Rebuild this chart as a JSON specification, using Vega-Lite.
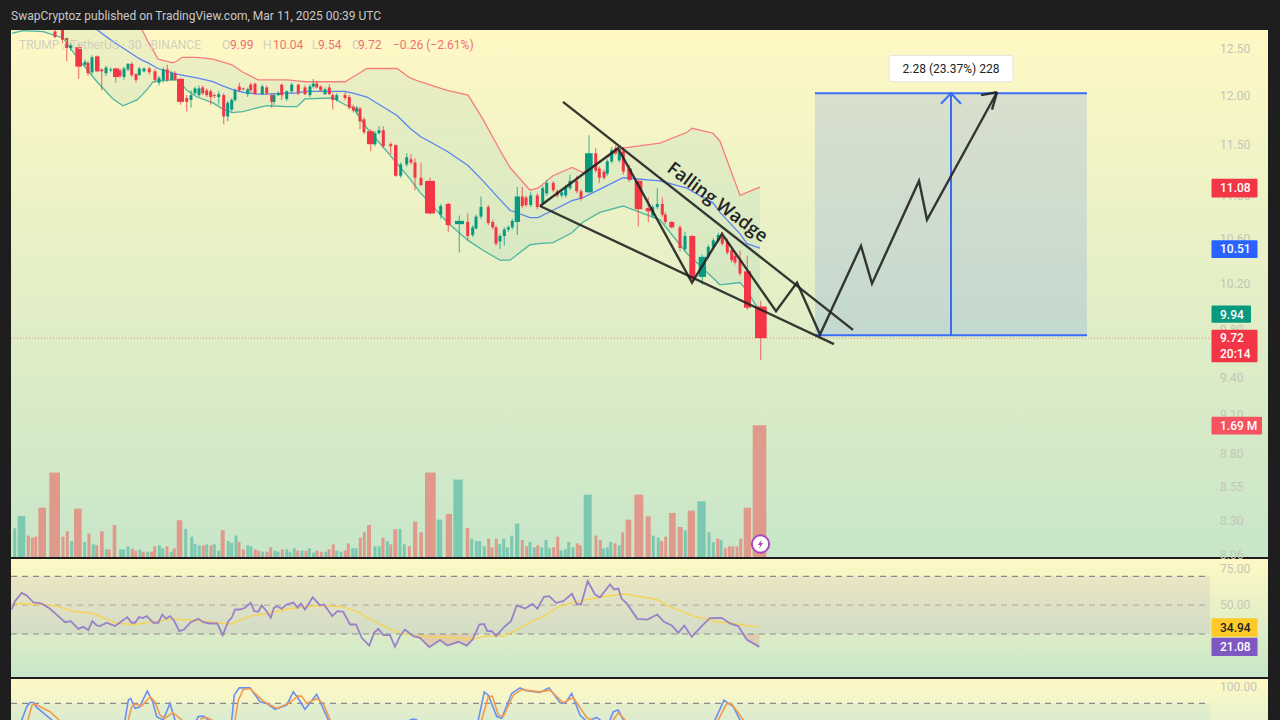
{
"$schema":"https://vega.github.io/schema/vega-lite/v6.json",
"background":"#1e1e1e",
"padding":{"left":11,"top":0,"right":12,"bottom":0},
"autosize":{"type":"pad"},
"spacing":2,
"bounds":"flush",
"config":{"view":{"stroke":null},"font":"Roboto","scale":{"continuousPadding":0}},
"datasets":{
"candles":[
{"t":55,"o":12.68,"h":12.7,"l":12.61,"c":12.62},
{"t":62.5,"o":12.7,"h":12.7,"l":12.55,"c":12.59},
{"t":66.7,"o":12.61,"h":12.61,"l":12.36,"c":12.5},
{"t":70.7,"o":12.5,"h":12.56,"l":12.47,"c":12.53},
{"t":78.7,"t0":75.3,"t1":82,"o":12.51,"h":12.55,"l":12.17,"c":12.3},
{"t":85,"o":12.32,"h":12.38,"l":12.3,"c":12.35},
{"t":88,"o":12.34,"h":12.36,"l":12.2,"c":12.23},
{"t":92,"o":12.24,"h":12.42,"l":12.22,"c":12.4},
{"t":97.3,"t0":95,"t1":99.5,"o":12.41,"h":12.42,"l":12.24,"c":12.25},
{"t":101.7,"o":12.27,"h":12.28,"l":12.05,"c":12.25},
{"t":106,"o":12.23,"h":12.31,"l":12.2,"c":12.29},
{"t":110.7,"o":12.26,"h":12.29,"l":12.24,"c":12.27},
{"t":115.7,"t0":113,"t1":119,"o":12.28,"h":12.29,"l":12.13,"c":12.19},
{"t":120,"o":12.26,"h":12.28,"l":12.18,"c":12.2},
{"t":124,"o":12.19,"h":12.3,"l":12.16,"c":12.28},
{"t":128,"o":12.27,"h":12.34,"l":12.25,"c":12.33},
{"t":131.7,"o":12.33,"h":12.35,"l":12.19,"c":12.21},
{"t":136,"o":12.22,"h":12.23,"l":12.13,"c":12.16},
{"t":139.3,"o":12.21,"h":12.3,"l":12.2,"c":12.28},
{"t":144,"o":12.25,"h":12.29,"l":12.24,"c":12.28},
{"t":149.3,"o":12.28,"h":12.3,"l":12.22,"c":12.24},
{"t":155,"o":12.25,"h":12.27,"l":12.13,"c":12.16},
{"t":159,"o":12.13,"h":12.2,"l":12.1,"c":12.18},
{"t":163.3,"o":12.16,"h":12.29,"l":12.13,"c":12.27},
{"t":167.3,"o":12.27,"h":12.32,"l":12.14,"c":12.16},
{"t":171.7,"o":12.16,"h":12.25,"l":12.15,"c":12.23},
{"t":175,"o":12.23,"h":12.25,"l":12.15,"c":12.16},
{"t":180.7,"t0":177,"t1":184,"o":12.17,"h":12.18,"l":11.9,"c":11.93},
{"t":186.7,"o":11.97,"h":12.0,"l":11.83,"c":11.93},
{"t":191,"o":11.95,"h":12.05,"l":11.87,"c":12.0},
{"t":195,"o":12.02,"h":12.09,"l":12.0,"c":12.07},
{"t":199,"o":12.0,"h":12.1,"l":11.98,"c":12.07},
{"t":202.7,"o":12.08,"h":12.1,"l":12.0,"c":12.02},
{"t":206.7,"o":12.05,"h":12.07,"l":11.98,"c":12.0},
{"t":210.7,"o":12.04,"h":12.06,"l":11.9,"c":11.98},
{"t":214.3,"o":12.0,"h":12.02,"l":11.97,"c":11.99},
{"t":218.7,"o":11.98,"h":12.04,"l":11.9,"c":12.01},
{"t":223.7,"o":12.0,"h":12.02,"l":11.7,"c":11.78},
{"t":227.7,"o":11.78,"h":11.94,"l":11.73,"c":11.92},
{"t":231.7,"o":11.85,"h":11.97,"l":11.83,"c":11.95},
{"t":235,"o":11.95,"h":12.07,"l":11.93,"c":12.05},
{"t":239.3,"o":12.09,"h":12.13,"l":12.03,"c":12.05},
{"t":243.3,"o":12.07,"h":12.08,"l":12.05,"c":12.06},
{"t":247.7,"o":12.01,"h":12.08,"l":11.98,"c":12.06},
{"t":250.7,"o":12.11,"h":12.13,"l":12.03,"c":12.05},
{"t":255,"o":12.12,"h":12.13,"l":12.0,"c":12.01},
{"t":262.3,"o":12.01,"h":12.11,"l":12.0,"c":12.09},
{"t":266.7,"o":12.08,"h":12.1,"l":12.0,"c":12.02},
{"t":271.7,"o":12.0,"h":12.02,"l":11.87,"c":11.93},
{"t":274,"o":11.93,"h":12.02,"l":11.9,"c":12.0},
{"t":278.3,"o":12.0,"h":12.04,"l":11.99,"c":12.02},
{"t":281.7,"o":12.11,"h":12.12,"l":11.95,"c":12.0},
{"t":286.7,"o":11.96,"h":12.05,"l":11.94,"c":12.04},
{"t":291.7,"o":12.04,"h":12.13,"l":12.02,"c":12.11},
{"t":298.3,"o":12.11,"h":12.12,"l":12.0,"c":12.02},
{"t":305,"o":12.08,"h":12.1,"l":12.0,"c":12.01},
{"t":310,"o":12.0,"h":12.11,"l":11.98,"c":12.09},
{"t":313.3,"o":12.09,"h":12.17,"l":12.07,"c":12.12},
{"t":316.7,"o":12.12,"h":12.15,"l":12.07,"c":12.08},
{"t":320.7,"o":12.09,"h":12.1,"l":12.04,"c":12.05},
{"t":325,"o":12.01,"h":12.08,"l":12.0,"c":12.06},
{"t":329.3,"o":12.08,"h":12.11,"l":12.0,"c":12.01},
{"t":332.7,"o":12.0,"h":12.02,"l":11.85,"c":11.95},
{"t":336.7,"o":11.95,"h":12.02,"l":11.93,"c":12.0},
{"t":345,"o":12.0,"h":12.03,"l":11.95,"c":11.97},
{"t":349.3,"o":11.98,"h":12.0,"l":11.85,"c":11.87},
{"t":353.3,"o":11.88,"h":11.9,"l":11.82,"c":11.84},
{"t":356.7,"o":11.83,"h":11.89,"l":11.8,"c":11.87},
{"t":360,"o":11.86,"h":11.88,"l":11.65,"c":11.73},
{"t":364,"o":11.75,"h":11.77,"l":11.6,"c":11.62},
{"t":370.7,"t0":367,"t1":374,"o":11.63,"h":11.65,"l":11.43,"c":11.5},
{"t":375,"o":11.5,"h":11.63,"l":11.48,"c":11.61},
{"t":379,"o":11.61,"h":11.68,"l":11.6,"c":11.64},
{"t":383.3,"o":11.64,"h":11.68,"l":11.46,"c":11.48},
{"t":390.7,"o":11.5,"h":11.52,"l":11.4,"c":11.48},
{"t":395.7,"t0":394,"t1":397.5,"o":11.49,"h":11.5,"l":11.18,"c":11.19},
{"t":400.7,"o":11.19,"h":11.32,"l":11.17,"c":11.3},
{"t":406.7,"o":11.3,"h":11.41,"l":11.28,"c":11.37},
{"t":411,"o":11.35,"h":11.4,"l":11.3,"c":11.32},
{"t":415,"o":11.32,"h":11.36,"l":11.05,"c":11.17},
{"t":421,"o":11.17,"h":11.32,"l":11.09,"c":11.1},
{"t":430,"t0":425,"t1":435,"o":11.14,"h":11.17,"l":10.82,"c":10.83},
{"t":440.7,"o":10.82,"h":10.92,"l":10.78,"c":10.9},
{"t":448.3,"t0":445.7,"t1":450.7,"o":10.92,"h":10.93,"l":10.66,"c":10.72},
{"t":459.3,"t0":455,"t1":464,"o":10.73,"h":10.81,"l":10.47,"c":10.76},
{"t":467.7,"o":10.75,"h":10.83,"l":10.58,"c":10.62},
{"t":472.7,"o":10.63,"h":10.72,"l":10.61,"c":10.7},
{"t":476,"o":10.69,"h":10.82,"l":10.68,"c":10.8},
{"t":481,"o":10.8,"h":10.99,"l":10.78,"c":10.89},
{"t":488.3,"o":10.89,"h":10.91,"l":10.72,"c":10.74},
{"t":492.7,"o":10.75,"h":10.77,"l":10.68,"c":10.7},
{"t":496,"o":10.7,"h":10.72,"l":10.53,"c":10.55},
{"t":500,"o":10.57,"h":10.64,"l":10.5,"c":10.62},
{"t":504.3,"o":10.62,"h":10.7,"l":10.53,"c":10.68},
{"t":508.3,"o":10.68,"h":10.72,"l":10.66,"c":10.7},
{"t":512.3,"o":10.7,"h":10.78,"l":10.68,"c":10.76},
{"t":517.3,"t0":514.7,"t1":520,"o":10.75,"h":11.08,"l":10.63,"c":10.99},
{"t":522.3,"o":10.99,"h":11.08,"l":10.88,"c":10.9},
{"t":526,"o":10.98,"h":11.0,"l":10.89,"c":10.91},
{"t":530.7,"o":10.91,"h":11.03,"l":10.89,"c":11.0},
{"t":537.3,"o":11.0,"h":11.02,"l":10.87,"c":10.89},
{"t":542.7,"o":10.93,"h":11.09,"l":10.91,"c":11.07},
{"t":546.7,"o":11.02,"h":11.15,"l":11.0,"c":11.12},
{"t":553.3,"o":11.12,"h":11.14,"l":11.03,"c":11.05},
{"t":557.3,"o":11.04,"h":11.06,"l":10.98,"c":11.0},
{"t":561.7,"o":11.0,"h":11.05,"l":10.98,"c":11.03},
{"t":565.7,"o":11.0,"h":11.1,"l":10.98,"c":11.08},
{"t":570,"o":11.07,"h":11.2,"l":11.05,"c":11.14},
{"t":576.7,"o":11.14,"h":11.19,"l":11.02,"c":11.04},
{"t":581,"o":11.04,"h":11.06,"l":10.95,"c":10.97},
{"t":589,"t0":585,"t1":592.7,"o":11.03,"h":11.59,"l":11.02,"c":11.41},
{"t":595.7,"o":11.41,"h":11.46,"l":11.22,"c":11.24},
{"t":599.3,"o":11.26,"h":11.28,"l":11.12,"c":11.17},
{"t":604,"o":11.23,"h":11.25,"l":11.15,"c":11.17},
{"t":607.3,"o":11.21,"h":11.35,"l":11.19,"c":11.33},
{"t":611.7,"o":11.33,"h":11.47,"l":11.31,"c":11.44},
{"t":615.7,"o":11.46,"h":11.49,"l":11.39,"c":11.41},
{"t":619.3,"o":11.34,"h":11.44,"l":11.32,"c":11.42},
{"t":623.3,"o":11.43,"h":11.47,"l":11.2,"c":11.23},
{"t":629.3,"t0":627.3,"t1":632,"o":11.26,"h":11.3,"l":11.13,"c":11.15},
{"t":638.3,"t0":634.7,"t1":642.3,"o":11.14,"h":11.15,"l":10.71,"c":10.87},
{"t":648.3,"t0":645.7,"t1":651,"o":10.88,"h":10.98,"l":10.75,"c":10.85},
{"t":652.7,"o":10.81,"h":10.91,"l":10.79,"c":10.89},
{"t":657.3,"o":10.89,"h":11.07,"l":10.87,"c":10.92},
{"t":662.3,"o":10.92,"h":10.98,"l":10.8,"c":10.82},
{"t":665.3,"o":10.82,"h":10.84,"l":10.73,"c":10.75},
{"t":671.7,"t0":669.3,"t1":674.3,"o":10.75,"h":10.76,"l":10.69,"c":10.7},
{"t":680,"o":10.7,"h":10.72,"l":10.48,"c":10.51},
{"t":685,"o":10.5,"h":10.66,"l":10.48,"c":10.62},
{"t":692.3,"t0":689.3,"t1":695.3,"o":10.62,"h":10.63,"l":10.22,"c":10.24},
{"t":702.3,"t0":698.7,"t1":706,"o":10.25,"h":10.45,"l":10.18,"c":10.43},
{"t":708.3,"o":10.43,"h":10.54,"l":10.41,"c":10.52},
{"t":713.3,"o":10.52,"h":10.6,"l":10.5,"c":10.58},
{"t":718.3,"o":10.58,"h":10.65,"l":10.56,"c":10.63},
{"t":722.3,"o":10.61,"h":10.66,"l":10.53,"c":10.55},
{"t":727.3,"o":10.57,"h":10.6,"l":10.45,"c":10.47},
{"t":731.7,"o":10.49,"h":10.5,"l":10.38,"c":10.4},
{"t":735,"o":10.44,"h":10.46,"l":10.36,"c":10.38},
{"t":740,"o":10.4,"h":10.49,"l":10.26,"c":10.28},
{"t":747.3,"t0":744,"t1":751,"o":10.3,"h":10.44,"l":9.96,"c":9.98},
{"t":760.7,"t0":755,"t1":766.7,"o":9.99,"h":10.04,"l":9.54,"c":9.72}
],
"bands":[
{"t":12,"up":13.5,"mid":13,"lo":12.66},{"t":23,"up":13.5,"mid":13,"lo":12.69},{"t":43,"up":13.5,"mid":13,"lo":12.68},{"t":63,"up":13.5,"mid":13,"lo":12.61},
{"t":77,"up":13.5,"mid":12.87,"lo":12.4},{"t":97,"up":13.5,"mid":12.7,"lo":12.14},{"t":113,"up":13.5,"mid":12.57,"lo":11.96},{"t":123,"up":13.5,"mid":12.5,"lo":11.89},
{"t":137,"up":12.82,"mid":12.4,"lo":11.95},{"t":142,"up":12.7,"mid":12.37,"lo":12.0},{"t":148,"up":12.57,"mid":12.34,"lo":12.07},{"t":153,"up":12.48,"mid":12.31,"lo":12.14},
{"t":158,"up":12.38,"mid":12.28,"lo":12.15},{"t":173,"up":12.34,"mid":12.23,"lo":12.16},{"t":177,"up":12.36,"mid":12.22,"lo":12.16},{"t":182,"up":12.4,"mid":12.21,"lo":12.11},
{"t":187,"up":12.4,"mid":12.2,"lo":12.05},{"t":197,"up":12.4,"mid":12.18,"lo":11.98},{"t":213,"up":12.38,"mid":12.14,"lo":11.92},{"t":222,"up":12.35,"mid":12.1,"lo":11.86},
{"t":232,"up":12.32,"mid":12.06,"lo":11.82},{"t":243,"up":12.24,"mid":12.03,"lo":11.83},{"t":258,"up":12.16,"mid":12.01,"lo":11.87},{"t":267,"up":12.16,"mid":12.01,"lo":11.89},
{"t":287,"up":12.16,"mid":12.02,"lo":11.88},{"t":297,"up":12.15,"mid":12.02,"lo":11.88},{"t":305,"up":12.14,"mid":12.04,"lo":11.96},{"t":333,"up":12.14,"mid":12.04,"lo":11.97},
{"t":345,"up":12.14,"mid":12.04,"lo":11.9},{"t":353,"up":12.19,"mid":12.02,"lo":11.87},{"t":367,"up":12.28,"mid":11.98,"lo":11.66},{"t":397,"up":12.28,"mid":11.79,"lo":11.31},
{"t":410,"up":12.18,"mid":11.66,"lo":11.16},{"t":420,"up":12.14,"mid":11.58,"lo":11.03},{"t":447,"up":12.05,"mid":11.43,"lo":10.75},{"t":468,"up":12.0,"mid":11.29,"lo":10.58},
{"t":483,"up":11.75,"mid":11.14,"lo":10.49},{"t":500,"up":11.44,"mid":10.96,"lo":10.4},{"t":510,"up":11.27,"mid":10.86,"lo":10.4},{"t":530,"up":11.05,"mid":10.79,"lo":10.54},
{"t":538,"up":11.07,"mid":10.79,"lo":10.55},{"t":553,"up":11.19,"mid":10.86,"lo":10.56},{"t":572,"up":11.27,"mid":10.95,"lo":10.65},{"t":583,"up":11.22,"mid":10.98,"lo":10.75},
{"t":600,"up":11.33,"mid":11.06,"lo":10.84},{"t":623,"up":11.46,"mid":11.17,"lo":10.9},{"t":660,"up":11.51,"mid":11.14,"lo":10.77},{"t":687,"up":11.62,"mid":11.07,"lo":10.46},
{"t":692,"up":11.66,"mid":11.04,"lo":10.42},{"t":713,"up":11.61,"mid":10.93,"lo":10.24},{"t":720,"up":11.53,"mid":10.84,"lo":10.18},{"t":740,"up":11.0,"mid":10.64,"lo":10.2},
{"t":747,"up":11.03,"mid":10.55,"lo":10.13},{"t":760,"up":11.08,"mid":10.51,"lo":9.94}
],
"volume":[
{"t":14.7,"v":0.368,"d":"up"},{"t":21.5,"t0":17.7,"t1":25.3,"v":0.526,"d":"up"},{"t":28.3,"v":0.274,"d":"down"},{"t":32.3,"v":0.248,"d":"down"},{"t":35.7,"v":0.261,"d":"down"},
{"t":42,"t0":38.3,"t1":46,"v":0.633,"d":"down"},{"t":54.6,"t0":49.3,"t1":60,"v":1.083,"d":"down"},{"t":63,"v":0.261,"d":"down"},{"t":67.3,"v":0.33,"d":"down"},{"t":71.7,"v":0.205,"d":"up"},
{"t":78,"t0":74,"t1":81.7,"v":0.62,"d":"down"},{"t":84.7,"v":0.193,"d":"up"},{"t":89,"v":0.3,"d":"down"},{"t":93.3,"v":0.163,"d":"up"},{"t":96.7,"v":0.15,"d":"down"},
{"t":102,"t0":100,"t1":103.7,"v":0.33,"d":"down"},{"t":106.3,"v":0.098,"d":"up"},{"t":109.3,"v":0.098,"d":"down"},{"t":114.5,"t0":112.7,"t1":116.3,"v":0.411,"d":"down"},{"t":120.7,"v":0.098,"d":"up"},
{"t":123.7,"v":0.098,"d":"up"},{"t":128,"v":0.137,"d":"up"},{"t":132.3,"v":0.107,"d":"down"},{"t":135.7,"v":0.081,"d":"down"},{"t":140,"v":0.094,"d":"up"},
{"t":143.3,"v":0.068,"d":"down"},{"t":147.7,"v":0.068,"d":"up"},{"t":151.7,"v":0.068,"d":"down"},{"t":154.7,"v":0.137,"d":"down"},{"t":159.3,"v":0.15,"d":"up"},
{"t":162.7,"v":0.111,"d":"up"},{"t":167,"v":0.137,"d":"down"},{"t":171.3,"v":0.068,"d":"up"},{"t":174.3,"v":0.111,"d":"down"},{"t":179.5,"t0":176.7,"t1":182.3,"v":0.471,"d":"down"},
{"t":185.7,"v":0.36,"d":"up"},{"t":191.7,"v":0.261,"d":"up"},{"t":195,"v":0.167,"d":"up"},{"t":199.3,"v":0.15,"d":"up"},{"t":203.3,"v":0.15,"d":"down"},
{"t":206.7,"v":0.163,"d":"up"},{"t":211,"v":0.15,"d":"down"},{"t":214.3,"v":0.163,"d":"up"},{"t":218.7,"v":0.081,"d":"up"},{"t":222.7,"t0":220.7,"t1":224.7,"v":0.342,"d":"down"},
{"t":228.3,"v":0.205,"d":"up"},{"t":231.7,"v":0.18,"d":"up"},{"t":236,"v":0.274,"d":"up"},{"t":239,"v":0.193,"d":"down"},{"t":243.3,"v":0.098,"d":"down"},
{"t":247.7,"v":0.15,"d":"up"},{"t":251,"v":0.137,"d":"up"},{"t":255.3,"v":0.098,"d":"down"},{"t":258.7,"v":0.081,"d":"down"},{"t":262.7,"v":0.068,"d":"up"},
{"t":267,"v":0.068,"d":"down"},{"t":270.7,"v":0.124,"d":"down"},{"t":275,"v":0.081,"d":"up"},{"t":278,"v":0.068,"d":"up"},{"t":282.3,"v":0.098,"d":"down"},
{"t":286.7,"v":0.098,"d":"up"},{"t":290,"v":0.068,"d":"up"},{"t":294.3,"v":0.111,"d":"up"},{"t":297.7,"v":0.081,"d":"down"},{"t":302,"v":0.081,"d":"up"},
{"t":306,"v":0.081,"d":"down"},{"t":309.3,"v":0.111,"d":"up"},{"t":313.7,"v":0.056,"d":"up"},{"t":317,"v":0.081,"d":"down"},{"t":321.3,"v":0.068,"d":"down"},
{"t":325.7,"v":0.068,"d":"up"},{"t":329,"v":0.098,"d":"down"},{"t":333.3,"v":0.163,"d":"down"},{"t":336.7,"v":0.081,"d":"up"},{"t":341,"v":0.068,"d":"up"},
{"t":345.3,"v":0.081,"d":"down"},{"t":348.3,"v":0.175,"d":"down"},{"t":352.7,"v":0.111,"d":"up"},{"t":356,"v":0.111,"d":"up"},{"t":360.3,"v":0.248,"d":"down"},
{"t":364.3,"v":0.317,"d":"down"},{"t":369,"t0":367,"t1":371,"v":0.411,"d":"down"},{"t":375,"v":0.137,"d":"up"},{"t":379.3,"v":0.137,"d":"up"},{"t":383,"v":0.248,"d":"down"},
{"t":387.3,"v":0.205,"d":"up"},{"t":390.7,"v":0.163,"d":"down"},{"t":395.3,"t0":393.3,"t1":397.3,"v":0.355,"d":"down"},{"t":400,"v":0.36,"d":"up"},{"t":404.3,"v":0.163,"d":"up"},
{"t":409.3,"v":0.137,"d":"down"},{"t":415,"t0":413,"t1":417.3,"v":0.454,"d":"down"},{"t":421,"t0":419.3,"t1":423,"v":0.317,"d":"down"},{"t":430,"t0":425,"t1":435.7,"v":1.083,"d":"down"},
{"t":439.5,"t0":436.7,"t1":442.3,"v":0.479,"d":"up"},{"t":449,"t0":445.7,"t1":452,"v":0.552,"d":"down"},{"t":458,"t0":453.3,"t1":462.7,"v":0.993,"d":"up"},{"t":467.5,"t0":465.7,"t1":469.3,"v":0.372,"d":"down"},
{"t":471.7,"v":0.235,"d":"up"},{"t":476.3,"v":0.205,"d":"up"},{"t":479.7,"v":0.205,"d":"up"},{"t":484.3,"v":0.137,"d":"up"},{"t":488.7,"v":0.235,"d":"down"},
{"t":492,"v":0.124,"d":"down"},{"t":496.3,"v":0.235,"d":"down"},{"t":499.7,"v":0.163,"d":"up"},{"t":503.7,"v":0.235,"d":"up"},{"t":507.3,"v":0.124,"d":"up"},
{"t":511.7,"v":0.274,"d":"up"},{"t":517,"t0":515,"t1":519.3,"v":0.428,"d":"up"},{"t":522.3,"v":0.218,"d":"down"},{"t":526.7,"v":0.137,"d":"down"},{"t":530,"v":0.193,"d":"up"},
{"t":534.3,"v":0.124,"d":"up"},{"t":537.7,"v":0.15,"d":"down"},{"t":541.7,"v":0.124,"d":"up"},{"t":546,"v":0.218,"d":"up"},{"t":549.3,"v":0.111,"d":"up"},
{"t":553.7,"v":0.124,"d":"down"},{"t":557.7,"v":0.261,"d":"down"},{"t":561,"v":0.086,"d":"up"},{"t":565.3,"v":0.098,"d":"up"},{"t":568.7,"v":0.193,"d":"up"},
{"t":573,"v":0.124,"d":"up"},{"t":577.3,"v":0.175,"d":"down"},{"t":580.3,"v":0.15,"d":"down"},{"t":587.7,"t0":583.7,"t1":591.7,"v":0.8,"d":"up"},{"t":596,"v":0.274,"d":"down"},
{"t":600.3,"v":0.218,"d":"down"},{"t":603.3,"v":0.111,"d":"up"},{"t":607.3,"v":0.124,"d":"up"},{"t":610.7,"v":0.193,"d":"up"},{"t":615,"v":0.175,"d":"down"},
{"t":619.3,"v":0.15,"d":"up"},{"t":622.7,"v":0.317,"d":"down"},{"t":628.5,"t0":625.7,"t1":631.3,"v":0.479,"d":"down"},{"t":638.8,"t0":634.3,"t1":643.3,"v":0.8,"d":"down"},{"t":648.2,"t0":645.7,"t1":650.7,"v":0.522,"d":"down"},
{"t":653.3,"v":0.274,"d":"up"},{"t":658.3,"v":0.248,"d":"up"},{"t":661.7,"v":0.205,"d":"down"},{"t":665.7,"v":0.261,"d":"down"},{"t":672.3,"t0":669,"t1":675.7,"v":0.565,"d":"down"},
{"t":680.2,"t0":677.7,"t1":682.7,"v":0.385,"d":"down"},{"t":685.3,"v":0.342,"d":"up"},{"t":691.3,"t0":687.7,"t1":695,"v":0.595,"d":"down"},{"t":701.5,"t0":697.3,"t1":705.7,"v":0.715,"d":"up"},{"t":709,"v":0.317,"d":"up"},
{"t":713.3,"v":0.193,"d":"up"},{"t":717.7,"v":0.235,"d":"down"},{"t":721,"v":0.218,"d":"up"},{"t":725.3,"v":0.111,"d":"down"},{"t":729.3,"v":0.137,"d":"down"},
{"t":732.7,"v":0.137,"d":"down"},{"t":737,"v":0.137,"d":"down"},{"t":740.7,"v":0.235,"d":"down"},{"t":747.3,"t0":743.7,"t1":751,"v":0.633,"d":"down"},{"t":759.5,"t0":752.7,"t1":766.3,"v":1.69,"d":"down"}
],
"rsi":[
{"t":11.7,"v":47},{"t":15,"v":52.8},{"t":21.7,"v":58.5},{"t":26.7,"v":56.7},{"t":33.3,"v":52},{"t":41.7,"v":51},{"t":50,"v":47.5},{"t":58.3,"v":42.4},{"t":65,"v":38.2},{"t":70.7,"v":38.9},{"t":78.3,"v":33.6},{"t":83.3,"v":35},{"t":88.3,"v":32.7},{"t":92.3,"v":38.9},{"t":96.7,"v":35.9},{"t":100,"v":35.5},{"t":106.7,"v":37.8},{"t":115,"v":35.5},{"t":121.7,"v":38.9},{"t":127.3,"v":41.7},{"t":131.7,"v":37.8},{"t":135,"v":37.8},{"t":139,"v":41.7},{"t":142.7,"v":41},{"t":146.7,"v":42.4},{"t":153.3,"v":37.8},{"t":158.3,"v":37.8},{"t":162.3,"v":43.5},{"t":166,"v":40.5},{"t":170,"v":42.4},{"t":174,"v":39.4},{"t":179.3,"v":32},{"t":184,"v":33.1},{"t":190.7,"v":38.2},{"t":198.3,"v":40.5},{"t":203.3,"v":38.2},{"t":210,"v":37.3},{"t":217.3,"v":37.3},{"t":222.7,"v":29.2},{"t":228.3,"v":38.9},{"t":231.7,"v":41.2},{"t":235,"v":47},{"t":240,"v":47},{"t":245,"v":48.2},{"t":250.7,"v":51.6},{"t":254.3,"v":45.8},{"t":258.3,"v":45.4},{"t":261.7,"v":49.8},{"t":266.7,"v":45.8},{"t":270.7,"v":41.2},{"t":274,"v":48.2},{"t":277.3,"v":49.3},{"t":281.7,"v":47.5},{"t":286.7,"v":50.5},{"t":293.3,"v":51.8},{"t":297.7,"v":48.2},{"t":301,"v":51.2},{"t":305,"v":47},{"t":312.7,"v":55.5},{"t":320,"v":49.8},{"t":324,"v":50.5},{"t":332.3,"v":42.4},{"t":337.3,"v":45.8},{"t":343.3,"v":45.4},{"t":350,"v":36.6},{"t":356,"v":36.6},{"t":361.7,"v":27.4},{"t":369.3,"v":22},{"t":374,"v":30.8},{"t":378.3,"v":33.6},{"t":383.3,"v":29.2},{"t":390,"v":29.2},{"t":395,"v":21.1},{"t":400,"v":28.5},{"t":405,"v":33.1},{"t":413.3,"v":28.5},{"t":420,"v":27.4},{"t":429.3,"v":20.9},{"t":440,"v":25.8},{"t":447.3,"v":22},{"t":458.3,"v":24.6},{"t":466.7,"v":22},{"t":472.7,"v":26.2},{"t":479.3,"v":36.6},{"t":484,"v":37},{"t":487.3,"v":32},{"t":491.7,"v":32},{"t":496,"v":28.5},{"t":503.3,"v":34.3},{"t":511,"v":38.9},{"t":516.7,"v":49.8},{"t":525,"v":47.7},{"t":532.7,"v":50.9},{"t":537.3,"v":47.5},{"t":544,"v":55.8},{"t":549.3,"v":56.2},{"t":556,"v":51.6},{"t":563.3,"v":52.8},{"t":572,"v":57.9},{"t":576.7,"v":50.9},{"t":581,"v":50.5},{"t":587.7,"v":66.6},{"t":595,"v":57.4},{"t":600,"v":55.5},{"t":610,"v":64.3},{"t":614,"v":60.9},{"t":618.3,"v":61.5},{"t":621.7,"v":54.4},{"t":626.7,"v":51.2},{"t":637.3,"v":40.5},{"t":647.3,"v":40},{"t":657.3,"v":43.5},{"t":664,"v":38.5},{"t":671.7,"v":35.9},{"t":678.3,"v":30.8},{"t":684.3,"v":35.9},{"t":691.7,"v":28},{"t":701.7,"v":35.5},{"t":710,"v":41},{"t":721.7,"v":41.2},{"t":730,"v":37.3},{"t":738.3,"v":35.5},{"t":746.7,"v":26.2},{"t":759.3,"v":21.08}
],
"rsiMa":[
{"t":11.7,"v":50.5},{"t":20,"v":51.2},{"t":40,"v":50.5},{"t":56.7,"v":49.3},{"t":73.3,"v":45.8},{"t":93.3,"v":44.2},{"t":116.7,"v":37.3},{"t":135,"v":36.6},{"t":156.7,"v":38.9},{"t":173.3,"v":40.5},{"t":196.7,"v":39.4},{"t":216.7,"v":37.8},{"t":231.7,"v":37},{"t":250,"v":42.4},{"t":266.7,"v":44.2},{"t":290,"v":47.7},{"t":320,"v":49.8},{"t":343.3,"v":48.8},{"t":358.3,"v":45.2},{"t":380,"v":36.6},{"t":400,"v":30.8},{"t":416.7,"v":28.5},{"t":433.3,"v":27.8},{"t":456.7,"v":27.4},{"t":471.7,"v":26.2},{"t":485,"v":28.5},{"t":503.3,"v":28.5},{"t":516.7,"v":32.7},{"t":533.3,"v":39.4},{"t":543.3,"v":41.9},{"t":556.7,"v":48.2},{"t":573.3,"v":52.1},{"t":600,"v":55.5},{"t":623.3,"v":57.9},{"t":656.7,"v":53.9},{"t":666.7,"v":50},{"t":693.3,"v":42.4},{"t":716.7,"v":38.5},{"t":733.3,"v":37.3},{"t":746.7,"v":35.9},{"t":759.3,"v":34.94}
],
"rsiLow":[
{"g":"a","t":411,"v":30},{"g":"a","t":413.3,"v":28.5},{"g":"a","t":420,"v":27.4},{"g":"a","t":429.3,"v":20.9},{"g":"a","t":440,"v":25.8},{"g":"a","t":447.3,"v":22},{"g":"a","t":458.3,"v":24.6},{"g":"a","t":466.7,"v":22},{"g":"a","t":472.7,"v":26.2},{"g":"a","t":475,"v":30},
{"g":"b","t":742,"v":30},{"g":"b","t":746.7,"v":26.2},{"g":"b","t":759.3,"v":21.08}
],
"stochK":[
{"t":11,"v":35},{"t":21.7,"v":60},{"t":26.7,"v":76},{"t":30,"v":81.2},{"t":33.3,"v":81.2},{"t":36.7,"v":75.2},{"t":51.7,"v":60},{"t":60,"v":35},{"t":120,"v":35},{"t":125,"v":60},{"t":128.3,"v":84},{"t":130.7,"v":86},{"t":135,"v":74},{"t":139.3,"v":75.2},{"t":147.3,"v":94.9},{"t":152.7,"v":82},{"t":156.7,"v":64},{"t":163.3,"v":60},{"t":170,"v":80},{"t":175,"v":60},{"t":185,"v":40},{"t":192,"v":45},{"t":196.7,"v":60},{"t":198.3,"v":64},{"t":203.3,"v":64.7},{"t":208.3,"v":60},{"t":215,"v":35},{"t":226,"v":35},{"t":231.7,"v":60},{"t":234.3,"v":90},{"t":239.3,"v":98.9},{"t":250,"v":98.9},{"t":260,"v":82},{"t":266.7,"v":80},{"t":275,"v":72.8},{"t":286.7,"v":78},{"t":293.3,"v":94},{"t":298.3,"v":86},{"t":305,"v":72.8},{"t":316.7,"v":91.2},{"t":328.3,"v":60},{"t":340,"v":35},{"t":400,"v":35},{"t":410,"v":60},{"t":413.3,"v":61},{"t":416.7,"v":60},{"t":425,"v":35},{"t":470,"v":35},{"t":478.3,"v":60},{"t":484.3,"v":94},{"t":488.3,"v":90},{"t":496.7,"v":64},{"t":501.7,"v":62},{"t":511.7,"v":92},{"t":520,"v":98.9},{"t":526.7,"v":95.3},{"t":540,"v":93.3},{"t":549,"v":98.9},{"t":560,"v":80.8},{"t":565.7,"v":80.8},{"t":571.7,"v":92},{"t":580,"v":66},{"t":586.7,"v":58},{"t":596.7,"v":63},{"t":600,"v":60},{"t":605,"v":50},{"t":610,"v":60},{"t":613.3,"v":70},{"t":618.3,"v":72},{"t":623.3,"v":60},{"t":632,"v":35},{"t":705,"v":35},{"t":715,"v":60},{"t":724,"v":84},{"t":733.3,"v":76},{"t":740,"v":60},{"t":750,"v":35},{"t":760,"v":30}
],
"stochD":[
{"t":15,"v":30},{"t":28,"v":60},{"t":32,"v":78},{"t":35,"v":79.2},{"t":50,"v":70},{"t":59,"v":60},{"t":68,"v":35},{"t":122,"v":35},{"t":128.3,"v":60},{"t":131.7,"v":76},{"t":135,"v":79.2},{"t":141.7,"v":76.8},{"t":150,"v":88},{"t":155,"v":82},{"t":160,"v":66},{"t":165,"v":62},{"t":172.7,"v":68.8},{"t":180,"v":62},{"t":183.3,"v":58},{"t":190,"v":42},{"t":197,"v":50},{"t":201.7,"v":62},{"t":206,"v":63},{"t":211.7,"v":60},{"t":218,"v":35},{"t":230,"v":35},{"t":235,"v":60},{"t":238.3,"v":84},{"t":243.3,"v":96.9},{"t":250,"v":98},{"t":263.3,"v":82.8},{"t":276.7,"v":74},{"t":288.3,"v":80},{"t":298.3,"v":89.2},{"t":301.7,"v":88.8},{"t":306.7,"v":80},{"t":316.7,"v":86},{"t":323.3,"v":80},{"t":330,"v":60},{"t":342,"v":35},{"t":472,"v":35},{"t":481.7,"v":60},{"t":488.3,"v":88},{"t":492.3,"v":88.8},{"t":498.3,"v":66},{"t":503.3,"v":64},{"t":513.3,"v":90},{"t":521.7,"v":96.9},{"t":540,"v":94},{"t":550,"v":96},{"t":563.3,"v":80.8},{"t":573.3,"v":87.2},{"t":586.7,"v":62.7},{"t":591.7,"v":60},{"t":600,"v":40},{"t":608,"v":42},{"t":613.3,"v":60},{"t":618.3,"v":68.8},{"t":625,"v":60},{"t":634,"v":35},{"t":708,"v":35},{"t":718.3,"v":60},{"t":726.7,"v":80},{"t":731.7,"v":79.2},{"t":743.3,"v":60},{"t":752,"v":35},{"t":760,"v":30}
],
"drawn":[
{"g":"top","t":563,"p":11.93},{"g":"top","t":853,"p":9.79},
{"g":"bottom","t":540,"p":10.9},{"g":"bottom","t":834,"p":9.67},
{"g":"path","t":540,"p":10.9},{"g":"path","t":618,"p":11.46},{"g":"path","t":692,"p":10.2},{"g":"path","t":722,"p":10.64},{"g":"path","t":776,"p":9.95},{"g":"path","t":797,"p":10.2},{"g":"path","t":820,"p":9.75},{"g":"path","t":861,"p":10.53},{"g":"path","t":872,"p":10.19},{"g":"path","t":919,"p":11.14},{"g":"path","t":927,"p":10.77},{"g":"path","t":997,"p":12.03},
{"g":"head1","t":981,"p":12.0},{"g":"head1","t":997,"p":12.03},
{"g":"head2","t":992,"p":11.85},{"g":"head2","t":997,"p":12.03}
],
"target":[
{"g":"high","t":815,"p":12.02},{"g":"high","t":1087,"p":12.02},
{"g":"low","t":815,"p":9.745},{"g":"low","t":1087,"p":9.745},
{"g":"shaft","t":951,"p":9.745},{"g":"shaft","t":951,"p":12.02},
{"g":"head","t":941,"p":11.91},{"g":"head","t":951,"p":12.02},{"g":"head","t":961,"p":11.91}
],
"priceAxis":[
{"t":1220,"p":12.5,"s":"12.50"},{"t":1220,"p":12.0,"s":"12.00"},{"t":1220,"p":11.5,"s":"11.50"},{"t":1220,"p":11.0,"s":"11.00"},{"t":1220,"p":10.6,"s":"10.60"},{"t":1220,"p":10.2,"s":"10.20"},{"t":1220,"p":9.8,"s":"9.80"},{"t":1220,"p":9.4,"s":"9.40"},{"t":1220,"p":9.1,"s":"9.10"},{"t":1220,"p":8.8,"s":"8.80"},{"t":1220,"p":8.55,"s":"8.55"},{"t":1220,"p":8.3,"s":"8.30"},{"t":1220,"p":8.06,"s":"8.06"}
],
"priceTags":[
{"t":1211.5,"t2":1257.5,"p":11.16,"p2":10.98,"k":"upper"},
{"t":1211.5,"t2":1257.5,"p":10.58,"p2":10.42,"k":"basis"},
{"t":1211.5,"t2":1251,"p":10.0,"p2":9.85,"k":"lower"},
{"t":1211.5,"t2":1257.5,"p":9.79,"p2":9.52,"k":"upper"},
{"t":1211.5,"t2":1262,"p":9.08,"p2":8.94,"k":"volume"}
],
"priceTagText":[
{"t":1220,"p":11.07,"s":"11.08"},{"t":1220,"p":10.5,"s":"10.51"},{"t":1220,"p":9.92,"s":"9.94"},{"t":1220,"p":9.72,"s":"9.72"},{"t":1220,"p":9.59,"s":"20:14"},{"t":1220,"p":9.01,"s":"1.69 M"}
],
"ohlc":[
{"t":19,"p":12.53,"s":"TRUMP / TetherUS · 30 · BINANCE","k":"name"},
{"t":222,"p":12.53,"s":"O","k":"name"},{"t":230,"p":12.53,"s":"9.99","k":"value"},
{"t":263,"p":12.53,"s":"H","k":"name"},{"t":273,"p":12.53,"s":"10.04","k":"value"},
{"t":312,"p":12.53,"s":"L","k":"name"},{"t":318,"p":12.53,"s":"9.54","k":"value"},
{"t":352,"p":12.53,"s":"C","k":"name"},{"t":358,"p":12.53,"s":"9.72","k":"value"},
{"t":393,"p":12.53,"s":"−0.26 (−2.61%)","k":"value"}
]
},
"vconcat":[
{
"width":1257,"height":28,
"data":{"values":[{"t":11,"s":"SwapCryptoz published on TradingView.com, Mar 11, 2025 00:39 UTC"}]},
"mark":{"type":"text","align":"left","baseline":"middle","fontSize":12,"dy":2,"color":"#c9c9c9"},
"encoding":{"x":{"field":"t","type":"quantitative","scale":{"domain":[11,1268]},"axis":null},"text":{"field":"s"}}
},
{
"width":1257,"height":527,
"view":{"stroke":null,"fill":{"gradient":"linear","x1":0,"y1":0,"x2":0,"y2":1,"stops":[{"offset":0,"color":"#fff8c4"},{"offset":1,"color":"#c8e6c9"}]}},
"encoding":{"x":{"field":"t","type":"quantitative","scale":{"domain":[11,1268]},"axis":null}},
"layer":[
{"data":{"name":"volume"},"layer":[
{"transform":[{"filter":"!datum.t0"}],"mark":{"type":"bar","orient":"vertical","size":3},
"encoding":{"y":{"field":"v","type":"quantitative","stack":null,"scale":{"domain":[0,6.76]},"axis":null},"color":{"field":"d","type":"nominal","scale":{"domain":["up","down"],"range":["#7dc8b0","#df9a8b"]},"legend":null}}},
{"transform":[{"filter":"datum.t0"}],"mark":{"type":"bar","orient":"vertical"},
"encoding":{"x":{"field":"t0","type":"quantitative","scale":{"domain":[11,1268]},"axis":null},"x2":{"field":"t1"},"y":{"field":"v","type":"quantitative","stack":null,"scale":{"domain":[0,6.76]},"axis":null},"color":{"field":"d","type":"nominal","scale":{"domain":["up","down"],"range":["#7dc8b0","#df9a8b"]},"legend":null}}},
{"data":{"values":[{"t":760.5,"v":0.167}]},"mark":{"type":"point","filled":true,"fill":"#ffffff","stroke":"#ab47bc","strokeWidth":2,"opacity":1,"size":300},
"encoding":{"y":{"field":"v","type":"quantitative","scale":{"domain":[0,6.76]},"axis":null}}},
{"data":{"values":[{"t":760.5,"v":0.167}]},"mark":{"type":"point","filled":true,"color":"#ab47bc","opacity":1,"size":90,"shape":"M0.3,-1 L-0.55,0.2 L-0.05,0.2 L-0.3,1 L0.55,-0.2 L0.05,-0.2 Z"},
"encoding":{"y":{"field":"v","type":"quantitative","scale":{"domain":[0,6.76]},"axis":null}}}
]},
{"layer":[
{"data":{"name":"bands"},"mark":{"type":"area","clip":true,"color":"#2196a0","opacity":0.08},
"encoding":{"y":{"field":"up","type":"quantitative","scale":{"type":"log","domain":[8.04,12.697]},"axis":null},"y2":{"field":"lo"}}},
{"data":{"name":"bands"},"mark":{"type":"line","clip":true,"color":"#f77c80","strokeWidth":1.3},
"encoding":{"y":{"field":"up","type":"quantitative","scale":{"type":"log","domain":[8.04,12.697]},"axis":null}}},
{"data":{"name":"bands"},"mark":{"type":"line","clip":true,"color":"#5b84f0","strokeWidth":1.3},
"encoding":{"y":{"field":"mid","type":"quantitative","scale":{"type":"log","domain":[8.04,12.697]},"axis":null}}},
{"data":{"name":"bands"},"mark":{"type":"line","clip":true,"color":"#4db6a0","strokeWidth":1.3},
"encoding":{"y":{"field":"lo","type":"quantitative","scale":{"type":"log","domain":[8.04,12.697]},"axis":null}}},
{"data":{"values":[{"t":11,"t2":1210,"p":9.72}]},"mark":{"type":"rule","clip":true,"color":"#e58a80","strokeDash":[1,2],"strokeWidth":1},
"encoding":{"x2":{"field":"t2"},"y":{"field":"p","type":"quantitative","scale":{"type":"log","domain":[8.04,12.697]},"axis":null}}},
{"data":{"name":"candles"},"mark":{"type":"rule","clip":true,"opacity":0.65,"strokeWidth":1.2},
"encoding":{"y":{"field":"l","type":"quantitative","scale":{"type":"log","domain":[8.04,12.697]},"axis":null},"y2":{"field":"h"},"color":{"condition":{"test":"datum.c>=datum.o","value":"#089981"},"value":"#f23645"}}},
{"data":{"name":"candles"},"transform":[{"filter":"!datum.t0"}],"mark":{"type":"bar","orient":"vertical","size":3,"clip":true},
"encoding":{"y":{"field":"o","type":"quantitative","scale":{"type":"log","domain":[8.04,12.697]},"axis":null},"y2":{"field":"c"},"color":{"condition":{"test":"datum.c>=datum.o","value":"#089981"},"value":"#f23645"}}},
{"data":{"name":"candles"},"transform":[{"filter":"datum.t0"}],"mark":{"type":"rect","clip":true},
"encoding":{"x":{"field":"t0","type":"quantitative","scale":{"domain":[11,1268]},"axis":null},"x2":{"field":"t1"},"y":{"field":"o","type":"quantitative","scale":{"type":"log","domain":[8.04,12.697]},"axis":null},"y2":{"field":"c"},"color":{"condition":{"test":"datum.c>=datum.o","value":"#089981"},"value":"#f23645"}}},
{"data":{"values":[{"t":815,"t2":1087,"p":12.02,"p2":9.745}]},"mark":{"type":"rect","color":"#2962ff","opacity":0.15},
"encoding":{"x2":{"field":"t2"},"y":{"field":"p","type":"quantitative","scale":{"type":"log","domain":[8.04,12.697]},"axis":null},"y2":{"field":"p2"}}},
{"data":{"name":"target"},"mark":{"type":"line","color":"#3a6df5","strokeWidth":2},
"encoding":{"y":{"field":"p","type":"quantitative","scale":{"type":"log","domain":[8.04,12.697]},"axis":null},"detail":{"field":"g"}}},
{"data":{"name":"drawn"},"mark":{"type":"line","color":"#222222","strokeWidth":2.4,"opacity":0.9},
"encoding":{"y":{"field":"p","type":"quantitative","scale":{"type":"log","domain":[8.04,12.697]},"axis":null},"detail":{"field":"g"}}},
{"data":{"values":[{"t":889,"t2":1013,"p":12.42,"p2":12.14}]},"mark":{"type":"rect","color":"#ffffff","stroke":"#e3e3e3","cornerRadius":3},
"encoding":{"x2":{"field":"t2"},"y":{"field":"p","type":"quantitative","scale":{"type":"log","domain":[8.04,12.697]},"axis":null},"y2":{"field":"p2"}}},
{"data":{"values":[{"t":951,"p":12.28,"s":"2.28 (23.37%) 228"}]},"mark":{"type":"text","fontSize":12,"color":"#222222","baseline":"middle"},
"encoding":{"y":{"field":"p","type":"quantitative","scale":{"type":"log","domain":[8.04,12.697]},"axis":null},"text":{"field":"s"}}},
{"data":{"values":[{"t":717,"p":10.93,"s":"Falling Wadge"}]},"mark":{"type":"text","fontSize":18,"font":"Open Sans","fontWeight":600,"color":"#222222","angle":37,"baseline":"middle"},
"encoding":{"y":{"field":"p","type":"quantitative","scale":{"type":"log","domain":[8.04,12.697]},"axis":null},"text":{"field":"s"}}},
{"data":{"name":"ohlc"},"mark":{"type":"text","align":"left","baseline":"middle","fontSize":12},
"encoding":{"y":{"field":"p","type":"quantitative","scale":{"type":"log","domain":[8.04,12.697]},"axis":null},"text":{"field":"s"},"color":{"field":"k","type":"nominal","scale":{"domain":["name","value"],"range":["#cfd0c0","#ef6f77"]},"legend":null}}},
{"data":{"name":"priceAxis"},"mark":{"type":"text","align":"left","baseline":"middle","fontSize":12,"dy":1,"color":"#c4c6b8"},
"encoding":{"y":{"field":"p","type":"quantitative","scale":{"type":"log","domain":[8.04,12.697]},"axis":null},"text":{"field":"s"}}},
{"data":{"name":"priceTags"},"mark":{"type":"rect","cornerRadius":1},
"encoding":{"x2":{"field":"t2"},"y":{"field":"p","type":"quantitative","scale":{"type":"log","domain":[8.04,12.697]},"axis":null},"y2":{"field":"p2"},"color":{"field":"k","type":"nominal","scale":{"domain":["upper","basis","lower","volume"],"range":["#f23645","#2962ff","#089981","#f7525f"]},"legend":null}}},
{"data":{"name":"priceTagText"},"mark":{"type":"text","align":"left","baseline":"middle","fontSize":12,"fontWeight":500,"color":"#ffffff"},
"encoding":{"y":{"field":"p","type":"quantitative","scale":{"type":"log","domain":[8.04,12.697]},"axis":null},"text":{"field":"s"}}}
],
"resolve":{"scale":{"color":"independent"}}
}
],
"resolve":{"scale":{"y":"independent","color":"independent"}}
},
{
"width":1257,"height":118,
"view":{"stroke":null,"fill":{"gradient":"linear","x1":0,"y1":0,"x2":0,"y2":1,"stops":[{"offset":0,"color":"#fff8c4"},{"offset":1,"color":"#c8e6c9"}]}},
"encoding":{"x":{"field":"t","type":"quantitative","scale":{"domain":[11,1268]},"axis":null}},
"layer":[
{"data":{"values":[{"t":11,"t2":1210,"v":70,"v2":30}]},"mark":{"type":"rect","color":"#7e57c2","opacity":0.1},
"encoding":{"x2":{"field":"t2"},"y":{"field":"v","type":"quantitative","scale":{"domain":[0.2,82]},"axis":null},"y2":{"field":"v2"}}},
{"data":{"values":[{"t":11,"t2":1210,"v":70},{"t":11,"t2":1210,"v":30}]},"mark":{"type":"rule","clip":true,"color":"#8b8b8b","strokeDash":[6,5],"strokeWidth":1.2},
"encoding":{"x2":{"field":"t2"},"y":{"field":"v","type":"quantitative","scale":{"domain":[0.2,82]},"axis":null}}},
{"data":{"values":[{"t":11,"t2":1210,"v":50}]},"mark":{"type":"rule","clip":true,"color":"#b3b3a8","strokeDash":[6,5],"strokeWidth":1.2},
"encoding":{"x2":{"field":"t2"},"y":{"field":"v","type":"quantitative","scale":{"domain":[0.2,82]},"axis":null}}},
{"data":{"name":"rsiLow"},"mark":{"type":"area","color":"#ef5350","opacity":0.2},
"encoding":{"y":{"field":"v","type":"quantitative","scale":{"domain":[0.2,82]},"axis":null},"y2":{"datum":30},"detail":{"field":"g"}}},
{"data":{"name":"rsiMa"},"mark":{"type":"line","clip":true,"color":"#f7d354","strokeWidth":1.4},
"encoding":{"y":{"field":"v","type":"quantitative","scale":{"domain":[0.2,82]},"axis":null}}},
{"data":{"name":"rsi"},"mark":{"type":"line","clip":true,"color":"#9a80c8","strokeWidth":1.8},
"encoding":{"y":{"field":"v","type":"quantitative","scale":{"domain":[0.2,82]},"axis":null}}},
{"data":{"values":[{"t":1220,"v":75,"s":"75.00"},{"t":1220,"v":50,"s":"50.00"}]},"mark":{"type":"text","align":"left","baseline":"middle","fontSize":12,"color":"#c4c6b8"},
"encoding":{"y":{"field":"v","type":"quantitative","scale":{"domain":[0.2,82]},"axis":null},"text":{"field":"s"}}},
{"data":{"values":[{"t":1211.5,"t2":1257.5,"v":40.9,"v2":28.1,"k":"ma"},{"t":1211.5,"t2":1257.5,"v":27.4,"v2":14.7,"k":"rsi"}]},"mark":{"type":"rect","cornerRadius":1},
"encoding":{"x2":{"field":"t2"},"y":{"field":"v","type":"quantitative","scale":{"domain":[0.2,82]},"axis":null},"y2":{"field":"v2"},"color":{"field":"k","type":"nominal","scale":{"domain":["ma","rsi"],"range":["#ffca28","#7e57c2"]},"legend":null}}},
{"data":{"values":[{"t":1220,"v":34.5,"s":"34.94","k":"ma"},{"t":1220,"v":21,"s":"21.08","k":"rsi"}]},"mark":{"type":"text","align":"left","baseline":"middle","fontSize":12,"fontWeight":500},
"encoding":{"y":{"field":"v","type":"quantitative","scale":{"domain":[0.2,82]},"axis":null},"text":{"field":"s"},"color":{"field":"k","type":"nominal","scale":{"domain":["ma","rsi"],"range":["#222222","#ffffff"]},"legend":null}}}
],
"resolve":{"scale":{"color":"independent"}}
},
{
"width":1257,"height":41,
"view":{"stroke":null,"fill":{"gradient":"linear","x1":0,"y1":0,"x2":0,"y2":1,"stops":[{"offset":0,"color":"#fff8c4"},{"offset":1,"color":"#e8f2cd"}]}},
"encoding":{"x":{"field":"t","type":"quantitative","scale":{"domain":[11,1268]},"axis":null}},
"layer":[
{"data":{"values":[{"t":11,"t2":1210,"v":80,"v2":20}]},"mark":{"type":"rect","clip":true,"color":"#2196f3","opacity":0.06},
"encoding":{"x2":{"field":"t2"},"y":{"field":"v","type":"quantitative","scale":{"domain":[59.9,109.6]},"axis":null},"y2":{"field":"v2"}}},
{"data":{"values":[{"t":11,"t2":1210,"v":80}]},"mark":{"type":"rule","clip":true,"color":"#8b8b8b","strokeDash":[6,5],"strokeWidth":1.2},
"encoding":{"x2":{"field":"t2"},"y":{"field":"v","type":"quantitative","scale":{"domain":[59.9,109.6]},"axis":null}}},
{"data":{"name":"stochK"},"mark":{"type":"line","clip":true,"color":"#6a8ff0","strokeWidth":1.6},
"encoding":{"y":{"field":"v","type":"quantitative","scale":{"domain":[59.9,109.6]},"axis":null}}},
{"data":{"name":"stochD"},"mark":{"type":"line","clip":true,"color":"#f29a4e","strokeWidth":1.6},
"encoding":{"y":{"field":"v","type":"quantitative","scale":{"domain":[59.9,109.6]},"axis":null}}},
{"data":{"values":[{"t":1220,"v":100,"s":"100.00"}]},"mark":{"type":"text","align":"left","baseline":"middle","fontSize":12,"color":"#c4c6b8"},
"encoding":{"y":{"field":"v","type":"quantitative","scale":{"domain":[59.9,109.6]},"axis":null},"text":{"field":"s"}}}
]
}
]
}
